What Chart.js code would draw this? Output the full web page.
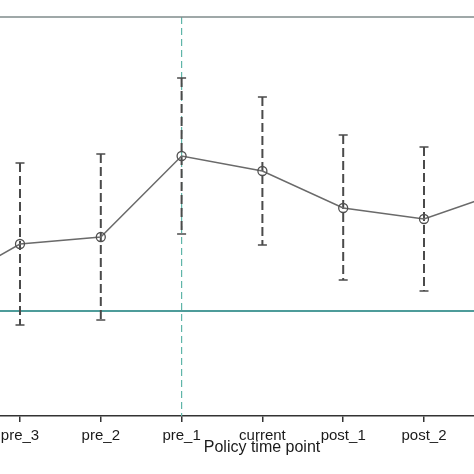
<!DOCTYPE html>
<html>
<head>
<meta charset="utf-8">
<script src="https://cdn.jsdelivr.net/npm/chart.js@4.4.1/dist/chart.umd.min.js"></script>
<style>
  html, body { margin: 0; padding: 0; background: #fff; overflow: hidden; }
  canvas { display: block; }
</style>
</head>
<body>
<canvas id="policy_chart" width="524" height="474"></canvas>
<script>
// time points; pre_4 and post_3 sit just outside the visible crop
const categories = ['pre_4', 'pre_3', 'pre_2', 'pre_1', 'current', 'post_1', 'post_2', 'post_3'];
const estimates  = [0.021, 0.067, 0.074, 0.155, 0.140, 0.103, 0.092, 0.120];
const ciLow      = [-0.060, -0.014, -0.009, 0.077, 0.066, 0.031, 0.020, 0.045];
const ciHigh     = [0.100, 0.148, 0.157, 0.233, 0.214, 0.176, 0.164, 0.195];
const zeroLine = 0;
const upperLine = 0.294;
const policyPoint = 'pre_1';

const FONT = "'Liberation Sans', Arial, sans-serif";
const policyIndex = categories.indexOf(policyPoint);

// error bars: one broken line, a null between each bar
const errorBars = [];
categories.forEach((c, i) => {
    errorBars.push({ x: i, y: ciHigh[i] }, { x: i, y: ciLow[i] }, { x: i, y: null });
});

const ctx = document.getElementById('policy_chart').getContext('2d');
new Chart(ctx, {
    type: 'line',
    data: {
        datasets: [
            {
                // estimates
                data: estimates.map((v, i) => ({ x: i, y: v })),
                borderColor: '#6a6a6a',
                borderWidth: 1.5,
                pointStyle: 'circle',
                pointRadius: 4.5,
                pointBorderColor: '#505050',
                pointBorderWidth: 1.3,
                pointBackgroundColor: 'rgba(0,0,0,0)',
                tension: 0
            },
            {
                // confidence intervals
                data: errorBars,
                spanGaps: false,
                borderColor: '#4a4a4a',
                borderWidth: 2,
                borderDash: [9, 4],
                pointStyle: 'line',
                pointRadius: 4.5,
                pointBorderColor: '#4a4a4a',
                pointBorderWidth: 1.5
            },
            {
                data: [{ x: -1, y: zeroLine }, { x: categories.length, y: zeroLine }],
                borderColor: '#4e9c9a',
                borderWidth: 2,
                pointRadius: 0
            },
            {
                data: [{ x: -1, y: upperLine }, { x: categories.length, y: upperLine }],
                borderColor: '#7f8b8b',
                borderWidth: 1.5,
                pointRadius: 0
            },
            {
                data: [{ x: policyIndex, y: -1 }, { x: policyIndex, y: upperLine }],
                borderColor: '#5fb5a8',
                borderWidth: 1.2,
                borderDash: [7, 4],
                pointRadius: 0
            }
        ]
    },
    options: {
        responsive: false,
        animation: false,
        layout: { padding: 0, autoPadding: false },
        plugins: { legend: { display: false }, tooltip: { enabled: false } },
        scales: {
            x: {
                type: 'linear',
                min: 0.7525,
                max: 7.2376,
                afterBuildTicks: (scale) => {
                    scale.ticks = categories
                        .map((c, i) => ({ value: i }))
                        .filter((t) => t.value >= scale.min && t.value <= scale.max);
                },
                afterFit: (scale) => {
                    scale.paddingLeft = 0;
                    scale.paddingRight = 0;
                    scale.height = 58;
                },
                ticks: {
                    autoSkip: false,
                    maxRotation: 0,
                    padding: 5,
                    color: '#1a1a1a',
                    font: { family: FONT, size: 15 },
                    callback: (v) => categories[v]
                },
                grid: { drawOnChartArea: false, drawTicks: true, tickLength: 6, color: '#333', lineWidth: 1.5 },
                border: { display: true, color: '#333', width: 1.5 },
                title: {
                    display: true,
                    text: 'Policy time point',
                    color: '#1a1a1a',
                    font: { family: FONT, size: 16 },
                    padding: { top: 0, bottom: 17 }
                }
            },
            y: { display: false, min: -0.105, max: 0.311 }
        }
    }
});
</script>
</body>
</html>
